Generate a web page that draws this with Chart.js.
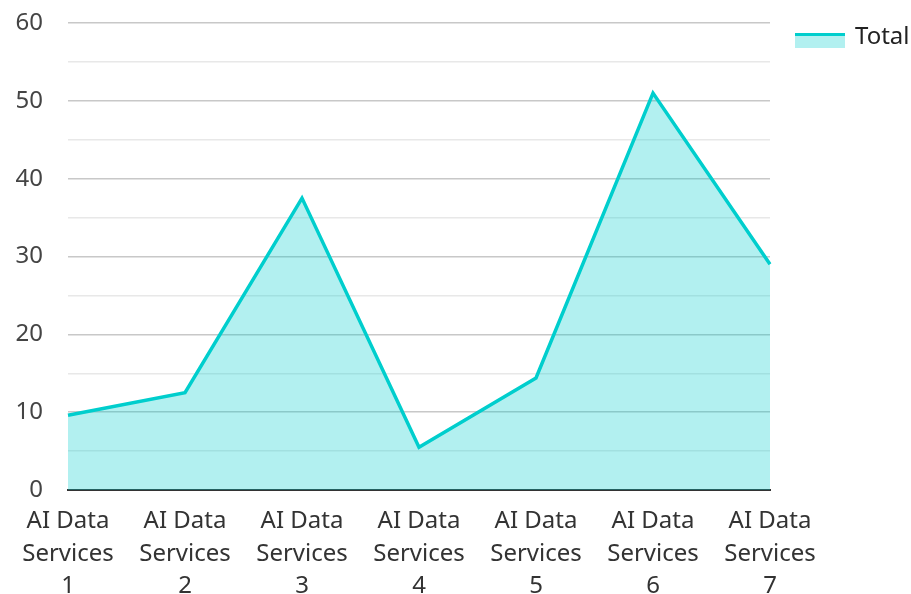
<!DOCTYPE html>
<html>
<head>
<meta charset="utf-8">
<style>
  body { margin: 0; background: #fff; }
</style>
</head>
<body>
<canvas id="chart" width="911" height="594"></canvas>
<script src="https://cdn.jsdelivr.net/npm/chart.js"></script>
<script>
const categories = [
  ['AI Data', 'Services', '1'],
  ['AI Data', 'Services', '2'],
  ['AI Data', 'Services', '3'],
  ['AI Data', 'Services', '4'],
  ['AI Data', 'Services', '5'],
  ['AI Data', 'Services', '6'],
  ['AI Data', 'Services', '7']
];
const totals = [9.6, 12.5, 37.5, 5.5, 14.4, 51, 29];
const seriesName = 'Total';

const lineColor = '#00cecd';
const fillColor = 'rgba(0, 206, 205, 0.3)';
const fontFamily = '"Noto Sans", sans-serif';

// legend drawn by hand: filled box with thick top line, then label
const legendPlugin = {
  id: 'topLineLegend',
  afterDraw(chart) {
    const ctx = chart.ctx;
    const ds = chart.data.datasets[0];
    const x = 795, y = 33, w = 50, h = 15;
    ctx.save();
    ctx.fillStyle = fillColor;
    ctx.fillRect(x, y, w, h);
    ctx.fillStyle = lineColor;
    ctx.fillRect(x, y, w, 3);
    ctx.fillStyle = '#222';
    ctx.font = '24px ' + fontFamily;
    ctx.textBaseline = 'middle';
    ctx.fillText(ds.label, x + 60, y + 4);
    ctx.restore();
  }
};

new Chart(document.getElementById('chart').getContext('2d'), {
  type: 'line',
  data: {
    labels: categories,
    datasets: [{
      label: seriesName,
      data: totals,
      borderColor: lineColor,
      backgroundColor: fillColor,
      borderWidth: 3.5,
      fill: 'origin',
      tension: 0,
      pointRadius: 0
    }]
  },
  options: {
    responsive: false,
    animation: false,
    layout: { padding: { top: 0, right: 141, left: 0, bottom: 0 } },
    plugins: {
      legend: { display: false },
      tooltip: { enabled: false }
    },
    scales: {
      x: {
        offset: false,
        grid: { display: false },
        border: { color: '#333', width: 2 },
        afterFit(s) {
          s.height = 104;
          s.paddingTop = 0;
          s.paddingBottom = 0;
        },
        ticks: {
          color: '#333',
          font: { family: fontFamily, size: 24, lineHeight: 1.36 },
          maxRotation: 0,
          autoSkip: false,
          padding: 7
        }
      },
      y: {
        min: 0,
        max: 60,
        border: { display: false },
        afterFit(s) {
          s.width = 68;
          s.paddingTop = 23;
          s.paddingBottom = 0;
        },
        grid: {
          drawTicks: false,
          color: c => (c.tick && c.tick.value % 10 === 0) ? '#c8c8c8' : '#e8e8e8',
          lineWidth: 1.5
        },
        ticks: {
          stepSize: 5,
          color: '#444',
          padding: 25,
          font: { family: fontFamily, size: 24 },
          callback: v => (v % 10 === 0 ? v : '')
        }
      }
    }
  },
  plugins: [legendPlugin]
});
</script>
</body>
</html>
